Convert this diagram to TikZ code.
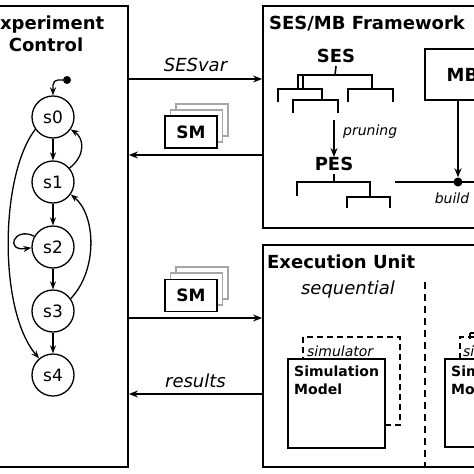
\documentclass[tikz,border=0pt]{standalone}
\usepackage{fontspec}
\setmainfont{DejaVu Sans}
\usetikzlibrary{arrows.meta}
\begin{document}
\begin{tikzpicture}[x=1pt,y=-1pt,
  frame/.style={draw, line width=1.8pt, inner sep=0pt},
  conn/.style={line width=1.4pt, -{Stealth[length=9pt,width=7pt]}},
  sconn/.style={line width=1.3pt, -{Stealth[length=8pt,width=6pt]}},
  state/.style={circle, draw, line width=1.3pt, minimum size=42pt, inner sep=0pt, font=\fontsize{17}{20}\selectfont},
  treeline/.style={line width=1.6pt},
  bigbold/.style={font=\fontsize{18}{22}\selectfont\bfseries},
  bigit/.style={font=\fontsize{18}{22}\selectfont\itshape},
  smallit/.style={font=\fontsize{14}{16}\selectfont\itshape},
  smfront/.style={draw, fill=white, line width=1.4pt, minimum width=52pt, minimum height=32pt, inner sep=0pt, font=\fontsize{17}{20}\selectfont\bfseries},
  smback/.style={draw=gray!70, fill=white, line width=1.4pt, minimum width=52pt, minimum height=32pt, inner sep=0pt},
  dashbox/.style={draw, line width=1.6pt, dash pattern=on 6pt off 4pt},
  simbox/.style={draw, fill=white, line width=1.6pt, inner sep=0pt},
  dot/.style={circle, fill, inner sep=0pt, minimum size=8pt}
]
\useasboundingbox (0,0) rectangle (474,474);
\clip (0,0) rectangle (474,474);

% main frames
\node[frame, minimum width=148pt, minimum height=461pt] (ec) at (54,236.5) {};
\node[frame, minimum width=227pt, minimum height=222pt] (ses) at (376.5,117) {};
\node[frame, minimum width=227pt, minimum height=222pt] (eu) at (376.5,356) {};

\node[bigbold, align=center] (ectitle) at (46,34) {Experiment\\Control};
\node[bigbold, anchor=west, inner sep=0pt] (sestitle) at (269,23) {SES/MB Framework};
\node[bigbold, anchor=west, inner sep=0pt] (eutitle) at (267,262) {Execution Unit};

% states
\node[state] (s0) at (53,117) {s0};
\node[state] (s1) at (53,182) {s1};
\node[state] (s2) at (53,247) {s2};
\node[state] (s3) at (53,311) {s3};
\node[state] (s4) at (53,375) {s4};
\node[dot] (init) at (67,80) {};

\draw[sconn, rounded corners=5pt] (init) -| (s0.north);
\draw[sconn] (s0) -- (s1);
\draw[sconn] (s1) -- (s2);
\draw[sconn] (s2) -- (s3);
\draw[sconn] (s3) -- (s4);
\draw[sconn] (s1.40) .. controls (86,155) and (84,138) .. (s0.-35);
\draw[sconn] (s3.35) .. controls (98,270) and (96,215) .. (s1.-35);
\draw[sconn] (s2.150) .. controls (14,226) and (4,252) .. (s2.182);
\draw[sconn] (s0.215) .. controls (0,175) and (-2,310) .. (s4.130);

% arrows between boxes
\draw[conn] (ec.east |- 0,79) -- (ses.west |- 0,79) node[midway, above=3pt, bigit] (sesvar) {SESvar};
\node[smback] (smA3) at (202,120) {};
\node[smback] (smA2) at (196.5,126) {};
\node[smfront] (smA1) at (191,132) {SM};
\draw[conn] (ses.west |- 0,155) -- (ec.east |- 0,155);

\node[smback] (smB3) at (202,283) {};
\node[smback] (smB2) at (196.5,289) {};
\node[smfront] (smB1) at (191,295.5) {SM};
\draw[conn] (ec.east |- 0,318) -- (eu.west |- 0,318);
\draw[conn] (eu.west |- 0,394) -- (ec.east |- 0,394) node[midway, above=2pt, bigit] (results) {results};

% SES tree
\node[bigbold, inner sep=0pt] (sesl) at (336,56) {SES};
\draw[treeline] (sesl.south) ++(0,3) -- (335,75);
\draw[treeline] (298,89) -- (298,75) -- (372,75) -- (372,89);
\draw[treeline] (302.7,75) -- (302.7,89);
\draw[treeline] (278,102) -- (278,89) -- (322,89) -- (322,100);
\draw[treeline] (293,113) -- (293,100) -- (338,100) -- (338,113);
\draw[treeline] (348,102) -- (348,89) -- (393,89) -- (393,102);

\node[bigbold, inner sep=0pt] (pesl) at (334,164) {PES};
\draw[conn] (334,120) -- (pesl.north);
\node[smallit, anchor=west, inner sep=0pt] (pruning) at (343,132) {pruning};
\draw[treeline] (334,174) -- (334,182);
\draw[treeline] (297,196) -- (297,182) -- (370,182) -- (370,197);
\draw[treeline] (347,208) -- (347,197) -- (390,197) -- (390,208);

% MB and build
\node[draw, line width=1.6pt, minimum width=75pt, minimum height=51pt, inner sep=0pt, bigbold] (mb) at (462.5,74.5) {MB};
\node[dot, minimum size=9pt] (build) at (458,182) {};
\coordinate (buildL) at (395,182);
\coordinate (buildR) at (480,182);
\draw[line width=1.4pt] (buildL) -- (buildR);
\draw[conn] (mb.south -| build) -- (build.north);
\node[smallit, inner sep=0pt] (buildlbl) at (452,198) {build};

% Execution unit content
\node[bigit, inner sep=0pt] (seq) at (348,290) {sequential};
\coordinate (sepT) at (425,282);
\coordinate (sepB) at (425,467);
\draw[line width=1.6pt, dash pattern=on 7pt off 5pt] (sepT) -- (sepB);

\draw[dashbox] (303,337) rectangle (400,425);
\node[smallit, anchor=west, inner sep=0pt] (simlbl) at (307,351) {simulator};
\node[simbox, minimum width=97pt, minimum height=89pt] (sm1) at (336.5,403.5) {};
\node[anchor=north west, align=left, inner sep=0pt, font=\fontsize{14}{18}\selectfont\bfseries] (sm1t) at (294,366) {Simulation\\Model};

\draw[dashbox] (470,333) -- (470,340);
\draw[dashbox] (470,333) -- (490,333);
\draw[dashbox] (460,359) -- (460,337) -- (490,337);
\node[smallit, anchor=west, inner sep=0pt] (simlbl2) at (463,351) {simulator};
\node[simbox, minimum width=97pt, minimum height=88pt] (sm2) at (493.5,403) {};
\node[anchor=north west, align=left, inner sep=0pt, font=\fontsize{14}{18}\selectfont\bfseries] (sm2t) at (451,366) {Simulation\\Model};
\end{tikzpicture}
\end{document}
